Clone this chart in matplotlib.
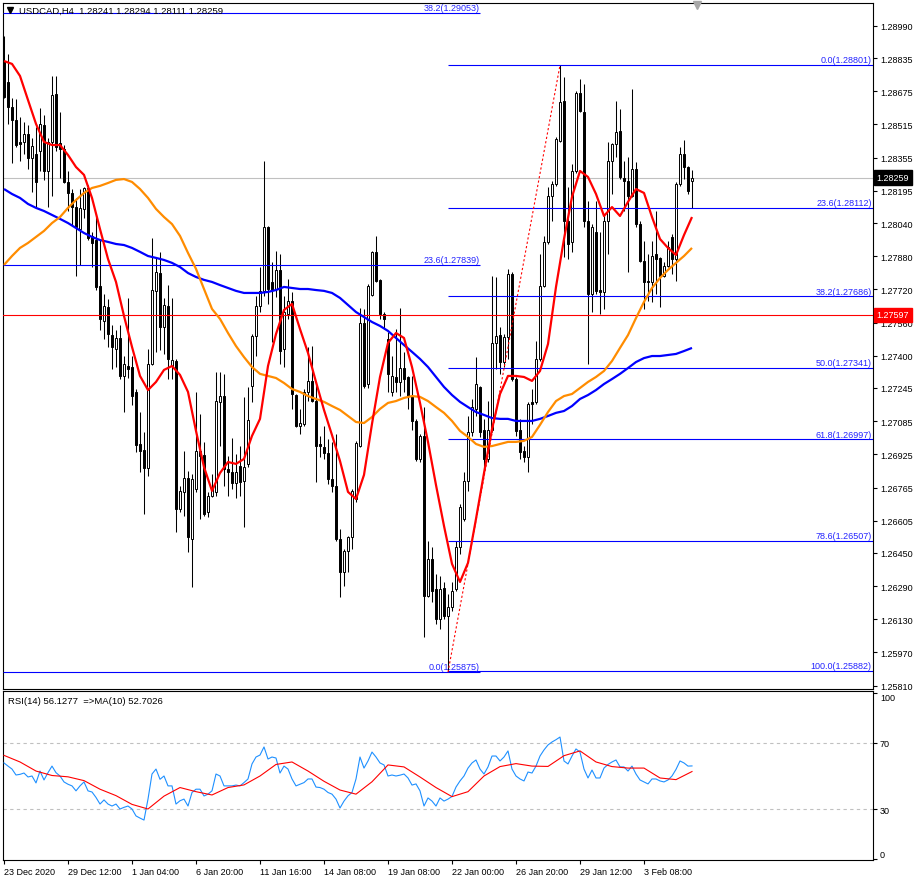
import numpy as np
import matplotlib
matplotlib.use("Agg")
import matplotlib.pyplot as plt
from matplotlib.transforms import blended_transform_factory

plt.rcParams['font.family'] = ['Liberation Sans', 'DejaVu Sans']

# ---------------- data ----------------
opens = [1.28821, 1.28720, 1.28599, 1.28537, 1.28431, 1.28431, 1.28469, 1.28354, 1.28373, 1.28387,
         1.28513, 1.28291, 1.28431, 1.28662, 1.28426, 1.28397, 1.28238, 1.28185, 1.28117, 1.28011,
         1.28108, 1.28209, 1.27978, 1.27958, 1.27737, 1.27568, 1.27635, 1.27500, 1.27433, 1.27486,
         1.27303, 1.27351, 1.27346, 1.27226, 1.26975, 1.26946, 1.26859, 1.27361, 1.27713, 1.27799,
         1.27539, 1.27640, 1.27351, 1.27375, 1.26662, 1.26744, 1.26811, 1.26517, 1.26758, 1.26941,
         1.26922, 1.26647, 1.26724, 1.26744, 1.27178, 1.27206, 1.26855, 1.26840, 1.26787, 1.26869,
         1.26797, 1.26879, 1.27255, 1.27496, 1.27640, 1.27713, 1.28021, 1.27756, 1.27722, 1.27814,
         1.27433, 1.27602, 1.27664, 1.27211, 1.27062, 1.27072, 1.27226, 1.27279, 1.27182, 1.26975,
         1.26961, 1.26932, 1.26806, 1.26773, 1.26517, 1.26358, 1.26459, 1.26527, 1.26710, 1.26965,
         1.27558, 1.27264, 1.27693, 1.27901, 1.27766, 1.27602, 1.27481, 1.27226, 1.27298, 1.27274,
         1.27341, 1.27298, 1.27206, 1.27086, 1.26903, 1.27014, 1.26242, 1.26421, 1.26276, 1.26132,
         1.26281, 1.26146, 1.26189, 1.26276, 1.26479, 1.26614, 1.26797, 1.27033, 1.27144, 1.27250,
         1.27043, 1.26903, 1.27043, 1.27462, 1.27500, 1.27370, 1.27491, 1.27795, 1.27288, 1.27043,
         1.26941, 1.26912, 1.27178, 1.27178, 1.27385, 1.27737, 1.27949, 1.28170, 1.28228, 1.28436,
         1.28628, 1.28050, 1.27949, 1.28291, 1.28667, 1.28575, 1.28050, 1.27698, 1.27997, 1.27717,
         1.27708, 1.28050, 1.28339, 1.28421, 1.28484, 1.28257, 1.28243, 1.28170, 1.28301, 1.28035,
         1.27857, 1.27761, 1.27756, 1.27891, 1.27872, 1.27785, 1.27833, 1.27973, 1.27867, 1.28228,
         1.28373, 1.28310, 1.28241]
highs = [1.28942, 1.28855, 1.28643, 1.28638, 1.28551, 1.28527, 1.28513, 1.28450, 1.28503, 1.28595,
         1.28561, 1.28450, 1.28749, 1.28749, 1.28575, 1.28416, 1.28291, 1.28204, 1.28161, 1.28204,
         1.28214, 1.28223, 1.27997, 1.28084, 1.27958, 1.27698, 1.27674, 1.27549, 1.27525, 1.27549,
         1.27399, 1.27679, 1.27399, 1.27240, 1.27129, 1.27033, 1.27433, 1.27968, 1.27872, 1.27901,
         1.27679, 1.27741, 1.27679, 1.27385, 1.26773, 1.26941, 1.26845, 1.26831, 1.27226, 1.27119,
         1.26985, 1.26744, 1.26831, 1.27322, 1.27322, 1.27313, 1.26917, 1.27004, 1.26927, 1.26965,
         1.27202, 1.27250, 1.27505, 1.27688, 1.27828, 1.28339, 1.28026, 1.27852, 1.27905, 1.27891,
         1.27688, 1.27770, 1.27708, 1.27216, 1.27144, 1.27240, 1.27443, 1.27447, 1.27274, 1.27014,
         1.27062, 1.26999, 1.26985, 1.27023, 1.26565, 1.26469, 1.26532, 1.26758, 1.26990, 1.27631,
         1.27626, 1.27746, 1.27905, 1.27978, 1.27770, 1.27611, 1.27515, 1.27399, 1.27529, 1.27631,
         1.27419, 1.27303, 1.27303, 1.27096, 1.27023, 1.27153, 1.26508, 1.26479, 1.26349, 1.26339,
         1.26310, 1.26252, 1.26310, 1.26508, 1.26686, 1.26840, 1.27110, 1.27192, 1.27394, 1.27255,
         1.27096, 1.27182, 1.27785, 1.27780, 1.27539, 1.27505, 1.27819, 1.27804, 1.27298, 1.27096,
         1.26965, 1.27178, 1.27240, 1.27472, 1.27891, 1.27978, 1.28214, 1.28243, 1.28455, 1.28801,
         1.28744, 1.28214, 1.28325, 1.28677, 1.28734, 1.28710, 1.28146, 1.28035, 1.28146, 1.27997,
         1.28084, 1.28431, 1.28426, 1.28628, 1.28590, 1.28339, 1.28358, 1.28686, 1.28334, 1.28050,
         1.27954, 1.27891, 1.27954, 1.28098, 1.27876, 1.27852, 1.27954, 1.27987, 1.28238, 1.28407,
         1.28440, 1.28315, 1.28294]
lows = [1.28643, 1.28518, 1.28329, 1.28407, 1.28339, 1.28373, 1.28301, 1.28190, 1.28117, 1.28291,
        1.28248, 1.28117, 1.28170, 1.28387, 1.28257, 1.28233, 1.28098, 1.28030, 1.27785, 1.27838,
        1.28064, 1.27958, 1.27828, 1.27717, 1.27525, 1.27481, 1.27443, 1.27337, 1.27346, 1.27288,
        1.27129, 1.27293, 1.27163, 1.26937, 1.26840, 1.26638, 1.26821, 1.27356, 1.27419, 1.27428,
        1.27409, 1.27288, 1.27288, 1.26551, 1.26647, 1.26628, 1.26455, 1.26286, 1.26744, 1.26614,
        1.26628, 1.26623, 1.26720, 1.26724, 1.26965, 1.26773, 1.26724, 1.26758, 1.26715, 1.26724,
        1.26575, 1.26864, 1.27178, 1.27399, 1.27611, 1.27688, 1.27650, 1.27467, 1.27684, 1.27361,
        1.27346, 1.27578, 1.27144, 1.27057, 1.27023, 1.27062, 1.27182, 1.27178, 1.26792, 1.26912,
        1.26903, 1.26782, 1.26744, 1.26508, 1.26238, 1.26291, 1.26358, 1.26469, 1.26696, 1.26961,
        1.27246, 1.27246, 1.27688, 1.27756, 1.27578, 1.27529, 1.27226, 1.27206, 1.27226, 1.27206,
        1.27226, 1.27144, 1.27043, 1.26893, 1.26888, 1.26045, 1.26238, 1.26214, 1.26108, 1.26083,
        1.26132, 1.25875, 1.26170, 1.26267, 1.26445, 1.26604, 1.26749, 1.27014, 1.27110, 1.27009,
        1.26855, 1.26888, 1.27033, 1.27337, 1.27313, 1.27346, 1.27385, 1.27279, 1.27014, 1.26903,
        1.26888, 1.26840, 1.27072, 1.27168, 1.27375, 1.27732, 1.27939, 1.28050, 1.28219, 1.28431,
        1.27876, 1.27867, 1.27901, 1.28281, 1.28575, 1.28021, 1.27361, 1.27611, 1.27698, 1.27602,
        1.27626, 1.27891, 1.28180, 1.28358, 1.28252, 1.28098, 1.27804, 1.28166, 1.28021, 1.27852,
        1.27626, 1.27664, 1.27660, 1.27698, 1.27635, 1.27780, 1.27828, 1.27795, 1.27761, 1.28219,
        1.28252, 1.28180, 1.28111]
closes = [1.28648, 1.28599, 1.28537, 1.28416, 1.28421, 1.28469, 1.28354, 1.28411, 1.28238, 1.28518,
          1.28291, 1.28431, 1.28657, 1.28407, 1.28397, 1.28238, 1.28185, 1.28117, 1.28021, 1.28113,
          1.28209, 1.27968, 1.27944, 1.27732, 1.27578, 1.27640, 1.27505, 1.27443, 1.27486, 1.27303,
          1.27361, 1.27337, 1.27206, 1.26970, 1.26941, 1.26859, 1.27361, 1.27717, 1.27804, 1.27539,
          1.27645, 1.27385, 1.27380, 1.26662, 1.26749, 1.26811, 1.26527, 1.26806, 1.26941, 1.26917,
          1.26638, 1.26724, 1.26758, 1.27182, 1.27206, 1.26855, 1.26840, 1.26787, 1.26840, 1.26792,
          1.26864, 1.27091, 1.27496, 1.27640, 1.27713, 1.28021, 1.27722, 1.27717, 1.27814, 1.27424,
          1.27611, 1.27664, 1.27216, 1.27062, 1.27076, 1.27226, 1.27279, 1.27182, 1.26965, 1.26965,
          1.26932, 1.26806, 1.26773, 1.26517, 1.26358, 1.26459, 1.26527, 1.26749, 1.26980, 1.27558,
          1.27255, 1.27737, 1.27901, 1.27761, 1.27602, 1.27578, 1.27313, 1.27303, 1.27274, 1.27341,
          1.27288, 1.27206, 1.27086, 1.26903, 1.27014, 1.26242, 1.26421, 1.26267, 1.26132, 1.26276,
          1.26146, 1.26189, 1.26267, 1.26479, 1.26671, 1.26797, 1.27033, 1.27153, 1.27264, 1.27033,
          1.26903, 1.27043, 1.27462, 1.27496, 1.27370, 1.27491, 1.27795, 1.27288, 1.27038, 1.26937,
          1.26912, 1.27168, 1.27168, 1.27385, 1.27737, 1.27949, 1.28170, 1.28228, 1.28445, 1.28624,
          1.28050, 1.27939, 1.28291, 1.28667, 1.28580, 1.28050, 1.27698, 1.28021, 1.27713, 1.27708,
          1.28050, 1.28339, 1.28421, 1.28479, 1.28262, 1.28243, 1.28170, 1.28301, 1.28035, 1.27857,
          1.27756, 1.27756, 1.27881, 1.27867, 1.27785, 1.27833, 1.27925, 1.27867, 1.28228, 1.28373,
          1.28310, 1.28195, 1.28259]

# moving averages, read every 2 bars
ma_step = 2
ma_fast = [1.28821, 1.28807, 1.28749, 1.28633, 1.28518, 1.28431, 1.28416, 1.28416, 1.28368, 1.28310,
           1.28272, 1.28161, 1.28011, 1.27867, 1.27756, 1.27592, 1.27443, 1.27303, 1.27235, 1.27274,
           1.27332, 1.27351, 1.27308, 1.27226, 1.27038, 1.26864, 1.26749, 1.26835, 1.26888, 1.26879,
           1.26903, 1.27014, 1.27096, 1.27351, 1.27505, 1.27621, 1.27650, 1.27529, 1.27414, 1.27274,
           1.27139, 1.27018, 1.26893, 1.26744, 1.26710, 1.26826, 1.27072, 1.27298, 1.27462, 1.27510,
           1.27486, 1.27346, 1.27173, 1.26985, 1.26777, 1.26580, 1.26397, 1.26310, 1.26402, 1.26614,
           1.26835, 1.27047, 1.27216, 1.27303, 1.27303, 1.27298, 1.27279, 1.27327, 1.27457, 1.27732,
           1.27963, 1.28166, 1.28291, 1.28262, 1.28180, 1.28074, 1.28117, 1.28074, 1.28142, 1.28204,
           1.28185, 1.28069, 1.27963, 1.27920, 1.27886, 1.27982, 1.28069]
ma_mid = [1.27838, 1.27881, 1.27920, 1.27944, 1.27973, 1.28002, 1.28040, 1.28069, 1.28113, 1.28151,
          1.28185, 1.28209, 1.28219, 1.28233, 1.28248, 1.28252, 1.28238, 1.28204, 1.28161, 1.28108,
          1.28069, 1.28035, 1.27978, 1.27896, 1.27819, 1.27722, 1.27626, 1.27578, 1.27510, 1.27447,
          1.27394, 1.27346, 1.27313, 1.27303, 1.27293, 1.27269, 1.27240, 1.27226, 1.27206, 1.27192,
          1.27178, 1.27158, 1.27139, 1.27110, 1.27081, 1.27076, 1.27105, 1.27144, 1.27173, 1.27182,
          1.27197, 1.27206, 1.27202, 1.27182, 1.27153, 1.27125, 1.27086, 1.27038, 1.27009, 1.26975,
          1.26961, 1.26965, 1.26975, 1.26985, 1.26985, 1.26990, 1.27009, 1.27067, 1.27129, 1.27182,
          1.27206, 1.27216, 1.27245, 1.27274, 1.27298, 1.27327, 1.27375, 1.27438, 1.27500, 1.27582,
          1.27660, 1.27727, 1.27775, 1.27814, 1.27848, 1.27881, 1.27920]
ma_slow = [1.28204, 1.28180, 1.28161, 1.28132, 1.28113, 1.28098, 1.28079, 1.28060, 1.28040, 1.28016,
           1.27992, 1.27973, 1.27958, 1.27949, 1.27939, 1.27934, 1.27920, 1.27901, 1.27881, 1.27872,
           1.27862, 1.27848, 1.27828, 1.27799, 1.27780, 1.27766, 1.27756, 1.27741, 1.27727, 1.27713,
           1.27703, 1.27703, 1.27703, 1.27708, 1.27717, 1.27732, 1.27727, 1.27722, 1.27722, 1.27717,
           1.27713, 1.27703, 1.27679, 1.27645, 1.27611, 1.27587, 1.27563, 1.27544, 1.27520, 1.27486,
           1.27452, 1.27419, 1.27385, 1.27346, 1.27298, 1.27250, 1.27211, 1.27178, 1.27153, 1.27129,
           1.27115, 1.27100, 1.27096, 1.27096, 1.27086, 1.27086, 1.27086, 1.27096, 1.27110, 1.27125,
           1.27134, 1.27158, 1.27192, 1.27211, 1.27235, 1.27264, 1.27288, 1.27313, 1.27341, 1.27370,
           1.27389, 1.27399, 1.27399, 1.27404, 1.27409, 1.27423, 1.27438]

rsi = [57.9, 56.0, 54.2, 50.6, 51.0, 51.8, 49.4, 50.0, 45.8, 53.0,
       47.6, 52.0, 56.0, 52.0, 50.0, 46.4, 45.0, 44.0, 41.0, 44.0,
       46.4, 41.0, 40.3, 37.0, 33.0, 35.5, 33.0, 31.8, 33.0, 30.0,
       31.0, 31.8, 30.0, 25.8, 24.5, 23.3, 36.0, 51.2, 54.2, 48.0,
       50.0, 44.0, 44.0, 33.0, 35.0, 36.0, 31.8, 40.0, 42.0, 42.0,
       37.9, 39.0, 41.0, 51.2, 50.0, 44.0, 44.0, 44.0, 44.5, 44.0,
       46.0, 48.2, 57.3, 61.5, 62.7, 67.6, 60.3, 61.5, 60.9, 51.8,
       56.0, 54.2, 48.2, 44.0, 45.0, 46.0, 48.2, 48.2, 43.3, 43.0,
       42.0, 40.0, 39.0, 36.0, 30.6, 34.8, 38.0, 40.0, 48.2, 61.5,
       54.8, 59.1, 64.5, 61.5, 57.9, 56.7, 50.0, 50.6, 50.0, 50.5,
       51.2, 48.8, 44.5, 45.2, 41.0, 31.8, 36.7, 34.8, 31.8, 36.7,
       34.8, 36.0, 37.6, 43.3, 47.0, 50.0, 54.8, 57.9, 59.7, 54.2,
       51.2, 55.5, 62.1, 62.1, 59.1, 61.5, 65.2, 54.2, 50.0, 48.2,
       47.0, 52.4, 51.8, 56.0, 62.1, 65.8, 68.8, 70.6, 72.0, 73.6,
       59.1, 57.3, 62.1, 66.4, 64.5, 54.2, 48.8, 53.6, 48.8, 48.8,
       54.8, 57.0, 58.5, 59.7, 55.5, 55.5, 53.0, 56.0, 51.2, 47.6,
       46.4, 45.2, 48.2, 48.2, 47.0, 46.4, 47.6, 50.0, 54.0, 59.1,
       57.9, 56.0, 56.1]
rsi_ma_step = 4
rsi_ma = [62.5, 58.5, 53.0, 50.3, 49.5, 47.2, 42.0, 38.1, 32.8, 30.0,
          37.8, 43.0, 40.5, 38.5, 43.0, 44.6, 50.0, 57.0, 58.5, 53.0,
          46.8, 41.5, 39.0, 46.5, 56.7, 55.5, 49.4, 43.0, 37.5, 40.5,
          50.0, 55.7, 57.5, 56.0, 55.8, 62.3, 65.2, 58.5, 55.7, 54.8,
          54.8, 48.8, 47.8, 52.7]

price_ticks = [1.28990, 1.28835, 1.28675, 1.28515, 1.28355, 1.28195, 1.28040, 1.27880, 1.27720,
               1.27560, 1.27400, 1.27245, 1.27085, 1.26925, 1.26765, 1.26605, 1.26450, 1.26290,
               1.26130, 1.25970, 1.25810]
time_tick_bars = [0, 16, 32, 48, 64, 80, 96, 112, 128, 144, 160]
time_labels = ["23 Dec 2020", "29 Dec 12:00", "1 Jan 04:00", "6 Jan 20:00", "11 Jan 16:00",
               "14 Jan 08:00", "19 Jan 08:00", "22 Jan 00:00", "26 Jan 20:00", "29 Jan 12:00",
               "3 Feb 08:00"]

fibA_levels = [0.0, 23.6, 38.2, 50.0, 61.8, 78.6, 100.0]
fibA_prices = [1.28801, 1.28112, 1.27686, 1.27341, 1.26997, 1.26507, 1.25882]
fibA_start_bar = 111
fibB_levels = [38.2, 23.6, 0.0]
fibB_prices = [1.29053, 1.27839, 1.25875]
fibB_end_bar = 119
swing_bars = [111, 139]
swing_prices = [1.25875, 1.28801]
bid_price = 1.28259
alert_price = 1.27597

# ---------------- figure ----------------
W, H = 919, 878
fig = plt.figure(figsize=(W / 100, H / 100), dpi=100)
fig.patch.set_facecolor('white')

def fx(px):
    return px / W

def fy(py):
    return 1 - py / H

ax = fig.add_axes([fx(3), fy(690), fx(873) - fx(3), fy(3.5) - fy(690)])
axr = fig.add_axes([fx(3), fy(861), fx(873) - fx(3), fy(692) - fy(861)])

XMIN, XMAX = -0.25, 217.25
FS = 6.5
BLUE_TXT = '#2424FF'

# candles
o = np.array(opens); h = np.array(highs); l = np.array(lows); c = np.array(closes)
idx = np.arange(len(o))
up = c >= o
ax.vlines(idx, l, h, color='black', linewidth=0.75, zorder=2)
body_bottom = np.minimum(o, c)
body_h = np.maximum(np.abs(c - o), 0.00002)
ax.bar(idx, body_h, bottom=body_bottom, width=0.55,
       color=['white' if u else 'black' for u in up],
       edgecolor='black', linewidth=0.7, zorder=3)

# horizontal lines
ax.axhline(bid_price, color='#C0C0C0', lw=0.8, zorder=1)
ax.axhline(alert_price, color='#FF0000', lw=0.8, zorder=4)

# fib A
ax.hlines(fibA_prices, fibA_start_bar, XMAX, color='#0000FF', lw=0.8, zorder=4)
for lv, pr in zip(fibA_levels, fibA_prices):
    ax.annotate(f"{lv:.1f}({pr:.5f})", xy=(XMAX - 0.3, pr), xytext=(0, 2),
                textcoords='offset points', ha='right', va='baseline',
                fontsize=FS, color=BLUE_TXT, zorder=6)
# fib B
ax.hlines(fibB_prices, XMIN, fibB_end_bar, color='#0000FF', lw=0.8, zorder=4)
for lv, pr in zip(fibB_levels, fibB_prices):
    ax.annotate(f"{lv:.1f}({pr:.5f})", xy=(fibB_end_bar, pr), xytext=(0, 2),
                textcoords='offset points', ha='right', va='baseline',
                fontsize=FS, color=BLUE_TXT, zorder=6)

# swing trend line
ax.plot(swing_bars, swing_prices, color='#FF0000', lw=0.8, ls=(0, (2, 2)), zorder=6)

# moving averages
ma_x = np.arange(len(ma_fast)) * ma_step
ax.plot(ma_x, ma_slow, color='#0000FF', lw=1.6, zorder=5, solid_capstyle='butt')
ax.plot(ma_x, ma_mid, color='#FF8C00', lw=1.6, zorder=6, solid_capstyle='butt')
ax.plot(ma_x, ma_fast, color='#FF0000', lw=1.6, zorder=7, solid_capstyle='butt')

ax.set_xlim(XMIN, XMAX)
ax.set_ylim(1.25794, 1.29103)
ax.set_xticks([])
ax.yaxis.tick_right()
ax.set_yticks(price_ticks)
ax.set_yticklabels([f"{v:.5f}" for v in price_ticks], fontsize=FS)
ax.tick_params(axis='y', direction='out', length=3, width=0.8, pad=2)
for s in ax.spines.values():
    s.set_linewidth(0.8)

trans = blended_transform_factory(ax.transAxes, ax.transData)
ax.text(1.004, bid_price, f"{bid_price:.5f}", transform=trans, ha='left', va='center',
        color='white', fontsize=FS, clip_on=False, zorder=10,
        bbox=dict(boxstyle='square,pad=0.3', fc='black', ec='black'))
ax.text(1.004, alert_price, f"{alert_price:.5f}", transform=trans, ha='left', va='center',
        color='white', fontsize=FS, clip_on=False, zorder=10,
        bbox=dict(boxstyle='square,pad=0.3', fc='#FF0000', ec='#FF0000'))

# title & markers
ax.plot([(10 - 3) / 870], [1 - (11 - 3.5) / 686.5], marker='v', markersize=4,
        color='black', transform=ax.transAxes, clip_on=False, zorder=10)
fig.text(fx(19), fy(11), "USDCAD,H4  1.28241 1.28294 1.28111 1.28259", fontsize=6.8,
         va='center', ha='left', color='black')
ax.plot([(697 - 3) / 870], [1 - (6 - 3.5) / 686.5], marker='v', markersize=6,
        color='#A8A8A8', transform=ax.transAxes, clip_on=False, zorder=10)

# ---------------- RSI ----------------
axr.plot(idx, rsi, color='#1E90FF', lw=0.8, zorder=3)
axr.plot(np.arange(len(rsi_ma)) * rsi_ma_step, rsi_ma, color='#FF0000', lw=0.8, zorder=4)
axr.axhline(70, color='#C0C0C0', lw=0.8, ls=(0, (3, 3)), zorder=1)
axr.axhline(30, color='#C0C0C0', lw=0.8, ls=(0, (3, 3)), zorder=1)
axr.set_xlim(XMIN, XMAX)
axr.set_ylim(-0.9, 101.5)
axr.yaxis.tick_right()
axr.set_yticks([0, 30, 70, 100])
ylabs = axr.set_yticklabels(["0", "30", "70", "100"], fontsize=FS)
ylabs[0].set_va('bottom')
ylabs[3].set_va('top')
axr.tick_params(axis='y', direction='out', length=3, width=0.8, pad=2)
axr.set_xticks(time_tick_bars)
xlabs = axr.set_xticklabels(time_labels, fontsize=FS)
for t in xlabs:
    t.set_ha('left')
axr.tick_params(axis='x', direction='out', length=3, width=0.8, pad=2)
for s in axr.spines.values():
    s.set_linewidth(0.8)
axr.text((8 - 3) / 870, (861 - 702) / 169, "RSI(14) 56.1277  =>MA(10) 52.7026",
         transform=axr.transAxes, fontsize=6.8, va='center', ha='left')

fig.savefig("out.png", dpi=100)
